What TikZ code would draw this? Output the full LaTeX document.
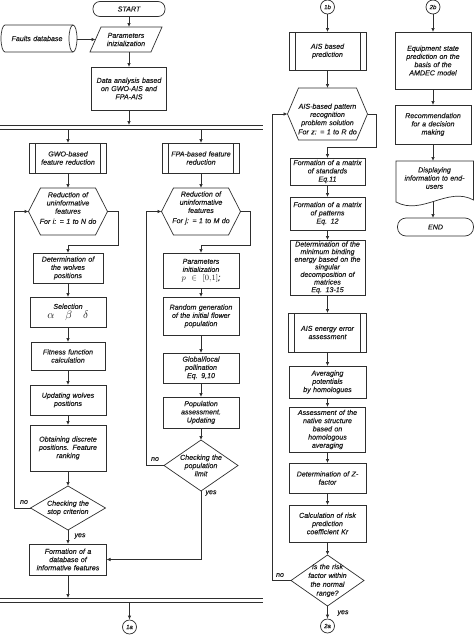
\documentclass[tikz,border=0pt]{standalone}
\usepackage{fontspec}
\setmainfont{Liberation Sans}[ItalicFeatures={FakeBold=0.4}]
\usetikzlibrary{arrows.meta,calc}
\definecolor{lncol}{HTML}{2E2E2E}
\definecolor{tx}{HTML}{1E1E1E}
\newcommand\fsz{\fontsize{7.1}{8.2}\selectfont\itshape}
\newcommand\hexpath[2]{\draw[shp] (#1.west) -- ([xshift=#2pt]#1.north west) -- ([xshift=-#2pt]#1.north east) -- (#1.east) -- ([xshift=-#2pt]#1.south east) -- ([xshift=#2pt]#1.south west) -- cycle;}
\newcommand\diapath[1]{\draw[shp] (#1.west) -- (#1.north) -- (#1.east) -- (#1.south) -- cycle;}
\tikzset{
 base/.style={rectangle, inner sep=0pt, outer sep=0pt, align=center, font=\fsz, text=tx},
 sz/.style 2 args={minimum width=#1pt, minimum height=#2pt, text width=#1pt},
 box/.style={base, draw=lncol, line width=0.7pt},
 proc/.style={box, path picture={\draw[lncol,line width=0.7pt] ([xshift=6pt]path picture bounding box.north west) -- ([xshift=6pt]path picture bounding box.south west) ([xshift=-6pt]path picture bounding box.north east) -- ([xshift=-6pt]path picture bounding box.south east);}},
 term/.style={box},
 shp/.style={draw=lncol, line width=0.7pt},
 conn/.style={circle, draw=lncol, line width=0.7pt, minimum size=14pt, inner sep=0pt, font=\fontsize{6}{6}\selectfont\itshape, text=tx},
 arr/.style={draw=lncol, line width=0.7pt, -{Latex[length=4pt,width=3.5pt]}},
 lin/.style={draw=lncol, line width=0.7pt},
 lbl/.style={font=\fsz, text=tx, inner sep=0pt},
}
\begin{document}
\begin{tikzpicture}[x=1pt,y=-1pt]
\useasboundingbox (0,0) rectangle (474,635);
% ---------- top part
\node[term, sz={72}{15}, rounded corners=7pt] (start) at (129,9) {START};
\node[base, sz={76}{27}] (fa) at (37,38.5) {Faults database};
\draw[shp] (5,25) -- (73,25) arc[start angle=90,end angle=-90,x radius=4pt,y radius=13.5pt] -- (5,52) arc[start angle=-90,end angle=-270,x radius=4pt,y radius=13.5pt] -- cycle;
\draw[shp] (73,25) arc[start angle=90,end angle=270,x radius=4pt,y radius=13.5pt];
\node[base, sz={61}{25}] (params) at (126,39.5) {Parameters\\inizialization};
\draw[shp] ([xshift=-5.5pt]params.south west) -- ([xshift=-5.5pt]params.south east) -- ([xshift=5.5pt]params.north east) -- ([xshift=5.5pt]params.north west) -- cycle;
\coordinate (faR) at (77,39.5);
\draw[arr] (faR) -- (params.west);
\draw[arr] (start) -- (start |- params.north);
\node[box, sz={75}{43}] (data) at (129,88.5) {Data analysis based\\on GWO-AIS and\\FPA-AIS};
\draw[arr] (data |- params.south) -- (data);
\coordinate (t1) at (0,125); \coordinate (t1e) at (263,125);
\coordinate (t2) at (0,129.5); \coordinate (t2e) at (263,129.5);
\draw[lin] (t1) -- (t1e); \draw[lin] (t2) -- (t2e);
\draw[arr] (data) -- (data |- t1);
% ---------- GWO column
\node[proc, sz={77}{30}] (gwo) at (68,158) {GWO-based\\feature reduction};
\draw[arr] (gwo |- t2) -- (gwo);
\node[base, sz={79}{47}] (hex1) at (68,211.5) {};
\hexpath{hex1}{12}
\node[base, sz={70}{10}] (hex1t) at (68,208) {Reduction of\\uninformative\\features\\[2pt]For i: = 1 to N do};
\draw[arr] (gwo) -- (hex1);
\node[box, sz={70}{30}] (det) at (68,268) {Determination of\\the wolves\\positions};
\draw[arr] (hex1.east) -- ++(11,0) |- ([yshift=8pt]det.north) -- (det.north);
\node[box, sz={76}{30}] (sel) at (68,312) {Selection\\[1pt]{\fontsize{11}{11}\selectfont$\alpha\quad\beta\quad\delta$}};
\node[box, sz={74}{28}] (fit) at (68,356) {Fitness function\\calculation};
\node[box, sz={76}{30}] (upd) at (68,400) {Updating wolves\\positions};
\node[box, sz={76}{46}] (obt) at (68,448) {Obtaining discrete\\positions. Feature\\ranking};
\node[base, sz={75}{44}] (d1) at (68,508) {Checking the\\stop criterion};
\diapath{d1}
\node[box, sz={77}{31}] (form) at (68,559.5) {Formation of a\\database of\\informative features};
\draw[arr] (det) -- (sel);
\draw[arr] (sel) -- (fit);
\draw[arr] (fit) -- (upd);
\draw[arr] (upd) -- (obt);
\draw[arr] (obt) -- (d1);
\draw[arr] (d1) -- (form);
\node[lbl] at (80,536) {yes};
\coordinate (L1) at (14,0);
\draw[arr] (d1.west) -- (d1.west -| L1) |- (hex1.west);
\node[lbl] at (24,502) {no};
% ---------- bottom lines
\coordinate (b1) at (0,598); \coordinate (b1e) at (263,598);
\coordinate (b2) at (0,602.5); \coordinate (b2e) at (263,602.5);
\draw[lin] (b1) -- (b1e); \draw[lin] (b2) -- (b2e);
\draw[arr] (form) -- (form |- b1);
\node[conn] (c1a) at (129.5,627) {1a};
\draw[arr] (c1a |- b2) -- (c1a);
% ---------- FPA column
\node[proc, sz={77}{30}] (fpa) at (201,158) {FPA-based feature\\reduction};
\draw[arr] (fpa |- t2) -- (fpa);
\node[base, sz={79}{47}] (hex2) at (201,211.5) {};
\hexpath{hex2}{12}
\node[base, sz={70}{10}] (hex2t) at (201,208) {Reduction of\\uninformative\\features\\[2pt]For j: = 1 to M do};
\draw[arr] (fpa) -- (hex2);
\node[box, sz={76}{35}] (pinit) at (201,270.5) {Parameters\\initialization\\{\fontsize{8}{8}\selectfont$p\in[0{,}1]$;}};
\draw[arr] (hex2.east) -- ++(10,0) |- ([yshift=8pt]pinit.north) -- (pinit.north);
\node[box, sz={76}{38}] (rnd) at (201,316) {Random generation\\of the initial flower\\population};
\node[box, sz={76}{30}] (glob) at (201,368) {Global/local\\pollination\\Eq. 9,10};
\node[box, sz={76}{31}] (pop) at (201,412.5) {Population\\assessment.\\Updating};
\node[base, sz={74}{51}] (d2) at (201,465.5) {Checking the\\population\\limit};
\diapath{d2}
\draw[arr] (pinit) -- (rnd);
\draw[arr] (rnd) -- (glob);
\draw[arr] (glob) -- (pop);
\draw[arr] (pop) -- (d2);
\coordinate (L2) at (146,0);
\draw[arr] (d2.west) -- (d2.west -| L2) |- (hex2.west);
\node[lbl] at (155,459) {no};
\draw[arr] (d2.south) |- (form.east);
\node[lbl] at (211,493) {yes};
% ---------- AIS column
\node[conn] (c1b) at (327.5,7) {1b};
\node[proc, sz={77}{38}] (aisp) at (327.5,51) {AIS based\\prediction};
\draw[arr] (c1b) -- (aisp);
\node[base, sz={80}{52}] (hex3) at (327.5,114) {};
\hexpath{hex3}{11}
\node[base, sz={74}{10}] (hex3t) at (327.5,119) {AIS-based pattern\\recognition\\problem solution\\[1pt]For z: = 1 to R do};
\draw[arr] (aisp) -- (hex3);
\node[box, sz={75}{27}] (fstd) at (327.5,171.5) {Formation of a matrix\\of standards\\Eq.11};
\draw[arr] (hex3.east) -- ++(9,0) |- ([yshift=11pt]fstd.north) -- (fstd.north);
\node[box, sz={75}{33}] (fpat) at (327.5,213.5) {Formation of a matrix\\of patterns\\Eq. 12};
\node[box, sz={75}{55}, font=\fontsize{7.1}{7.6}\selectfont\itshape] (dmin) at (327.5,267.5) {Determination of the\\minimum binding\\energy based on the\\singular\\decomposition of\\matrices\\Eq. 13-15};
\node[proc, sz={78}{39}] (aee) at (327.5,332.5) {AIS energy error\\assessment};
\node[box, sz={77}{32}] (avg) at (327.5,382) {Averaging\\potentials\\by homologues};
\node[box, sz={76}{45}] (ass) at (327.5,429.5) {Assessment of the\\native structure\\based on\\homologous\\averaging};
\node[box, sz={77}{30}] (zf) at (327.5,478) {Determination of Z-\\factor};
\node[box, sz={77}{37}] (calc) at (327.5,523.5) {Calculation of risk\\prediction\\coefficient Kr};
\node[base, sz={73}{51}, font=\fontsize{7.1}{8.8}\selectfont\itshape] (d3) at (327.5,580.5) {Is the risk\\factor within\\the normal\\range?};
\diapath{d3}
\node[conn] (c2a) at (327.5,626) {2a};
\draw[arr] (fstd) -- (fpat);
\draw[arr] (fpat) -- (dmin);
\draw[arr] (dmin) -- (aee);
\draw[arr] (aee) -- (avg);
\draw[arr] (avg) -- (ass);
\draw[arr] (ass) -- (zf);
\draw[arr] (zf) -- (calc);
\draw[arr] (calc) -- (d3);
\draw[arr] (d3) -- (c2a);
\node[lbl] at (343,613) {yes};
\coordinate (L3) at (272.5,0);
\draw[arr] (d3.west) -- (d3.west -| L3) |- (hex3.west);
\node[lbl] at (280,575) {no};
% ---------- 2b column
\node[conn] (c2b) at (433,7) {2b};
\node[box, sz={76}{57}] (eq) at (433,60.5) {Equipment state\\prediction on the\\basis of the\\AMDEC model};
\node[box, sz={76}{39}] (rec) at (433,124.5) {Recommendation\\for a decision\\making};
\node[base, sz={77}{34}] (doc) at (434.5,178) {Displaying\\information to end-\\users};
\draw[shp] (396,161) -- (473.5,161) -- (473.5,200) .. controls (448,186) and (422,216) .. (396,202) -- cycle;
\coordinate (docb) at (433,201);
\node[term, sz={76}{18}, rounded corners=8.5pt] (endn) at (435.5,227) {END};
\draw[arr] (c2b) -- (eq);
\draw[arr] (eq) -- (rec);
\draw[arr] (rec) -- (rec |- doc.north);
\draw[arr] (docb) -- (docb |- endn.north);
\end{tikzpicture}
\end{document}
